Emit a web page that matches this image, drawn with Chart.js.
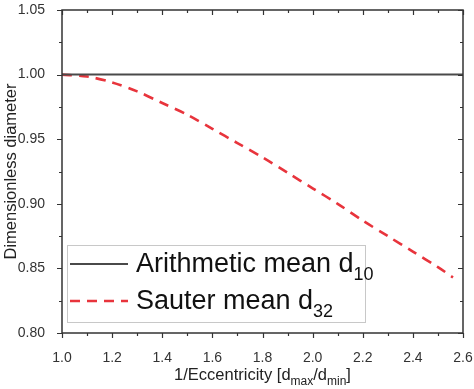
<!DOCTYPE html>
<html lang="en">
  <head>
    <meta charset="UTF-8" />
    <title>Dimensionless diameter vs 1/Eccentricity</title>
    <script src="https://cdn.jsdelivr.net/npm/chart.js"></script>
    <style>
      html, body { margin: 0; padding: 0; background: #fff; }
      #wrap { width: 474px; height: 389px; }
    </style>
  </head>
  <body>
    <div id="wrap"><canvas id="diamChart"></canvas></div>

    <script>
      // data
      const arithX = [1.0, 2.6];
      const arithY = [1.0, 1.0];

      const sauterX = [1.0, 1.1, 1.2, 1.3, 1.4, 1.5, 1.6, 1.7, 1.8, 1.9, 2.0, 2.1, 2.2, 2.3, 2.4, 2.5, 2.56];
      const sauterY = [1.0, 0.9985, 0.994, 0.987, 0.978, 0.969, 0.958, 0.947, 0.936, 0.924, 0.912, 0.9, 0.887, 0.875, 0.863, 0.851, 0.843];

      const xTicks = [1.0, 1.2, 1.4, 1.6, 1.8, 2.0, 2.2, 2.4, 2.6];
      const yTicks = [0.8, 0.85, 0.9, 0.95, 1.0, 1.05];

      const FONT = "'Liberation Sans', Arial, sans-serif";
      const AXIS = "#333";

      const toPoints = (xs, ys) => xs.map((x, i) => ({ x: x, y: ys[i] }));

      // frame + inner/outer tick marks (major and minor)
      const framePlugin = {
        id: "frame",
        afterDatasetsDraw(chart) {
          const { ctx, chartArea: a } = chart;
          const xs = chart.scales.x, ys = chart.scales.y;
          ctx.save();
          ctx.strokeStyle = AXIS;
          ctx.lineWidth = 1.5;
          ctx.strokeRect(a.left, a.top, a.right - a.left, a.bottom - a.top);
          ctx.lineWidth = 1.2;
          ctx.beginPath();
          for (let i = 0; i <= 16; i++) {
            const v = 1.0 + i * 0.1;
            const px = Math.round(xs.getPixelForValue(v)) + 0.5;
            const len = i % 2 === 0 ? 5 : 3;
            ctx.moveTo(px, a.bottom); ctx.lineTo(px, a.bottom + len);
            ctx.moveTo(px, a.top); ctx.lineTo(px, a.top + len);
          }
          for (let i = 0; i <= 10; i++) {
            const v = 0.8 + i * 0.025;
            const py = Math.round(ys.getPixelForValue(v)) + 0.5;
            const len = i % 2 === 0 ? 5 : 3;
            ctx.moveTo(a.left - len, py); ctx.lineTo(a.left, py);
            ctx.moveTo(a.right - len, py); ctx.lineTo(a.right, py);
          }
          ctx.stroke();
          ctx.restore();
        },
      };

      // text with a subscript part
      function subText(ctx, parts, x, y, size, subSize, align) {
        let w = 0;
        parts.forEach((p) => {
          ctx.font = (p.sub ? subSize : size) + "px " + FONT;
          p.w = ctx.measureText(p.t).width;
          w += p.w;
        });
        let cx = align === "center" ? x - w / 2 : x;
        parts.forEach((p) => {
          ctx.font = (p.sub ? subSize : size) + "px " + FONT;
          ctx.fillText(p.t, cx, p.sub ? y + size * 0.28 : y);
          cx += p.w;
        });
      }

      // legend box inside the plot, and x title with subscripts
      const legendPlugin = {
        id: "subLegend",
        afterDraw(chart) {
          const { ctx, chartArea: a } = chart;
          ctx.save();
          const bx = a.left + 5, by = a.bottom - 88, bw = 298, bh = 77;
          ctx.fillStyle = "#fff";
          ctx.fillRect(bx, by, bw, bh);
          ctx.strokeStyle = "#c8c8c8";
          ctx.lineWidth = 1;
          ctx.strokeRect(bx + 0.5, by + 0.5, bw, bh);

          const rows = [
            { ds: chart.data.datasets[0], y: by + 19, parts: [{ t: "Arithmetic mean d" }, { t: "10", sub: true }] },
            { ds: chart.data.datasets[1], y: by + 56, parts: [{ t: "Sauter mean d" }, { t: "32", sub: true }] },
          ];
          rows.forEach((r) => {
            ctx.strokeStyle = r.ds.borderColor;
            ctx.lineWidth = r.ds.borderWidth;
            ctx.setLineDash(r.ds.borderDash || []);
            ctx.beginPath();
            ctx.moveTo(bx + 3, r.y);
            ctx.lineTo(bx + 61, r.y);
            ctx.stroke();
            ctx.setLineDash([]);
            ctx.fillStyle = "#111";
            ctx.textBaseline = "alphabetic";
            subText(ctx, r.parts, bx + 69, r.y + 8, 27, 18, "left");
          });

          // x axis title
          ctx.fillStyle = "#222";
          subText(
            ctx,
            [{ t: "1/Eccentricity [d" }, { t: "max", sub: true }, { t: "/d" }, { t: "min", sub: true }, { t: "]" }],
            (a.left + a.right) / 2, 380, 16.5, 12, "center"
          );
          ctx.restore();
        },
      };

      const ctx = document.getElementById("diamChart").getContext("2d");
      new Chart(ctx, {
        type: "scatter",
        data: {
          datasets: [
            {
              label: "Arithmetic mean d10",
              data: toPoints(arithX, arithY),
              showLine: true,
              borderColor: "#4a4a4a",
              borderWidth: 2,
              pointRadius: 0,
            },
            {
              label: "Sauter mean d32",
              data: toPoints(sauterX, sauterY),
              showLine: true,
              borderColor: "#e8343c",
              borderWidth: 2.6,
              borderDash: [10, 7],
              pointRadius: 0,
              tension: 0.3,
            },
          ],
        },
        options: {
          responsive: true,
          maintainAspectRatio: false,
          animation: false,
          layout: { padding: { top: 10, right: 11, left: 0, bottom: 0 } },
          plugins: {
            legend: { display: false },
            tooltip: { enabled: false },
          },
          scales: {
            x: {
              type: "linear",
              min: 1.0,
              max: 2.6,
              afterBuildTicks: (s) => { s.ticks = xTicks.map((v) => ({ value: v })); },
              afterFit: (s) => { s.height = 56; s.paddingLeft = 0; s.paddingRight = 0; },
              grid: { display: false },
              border: { display: false },
              ticks: {
                padding: 9,
                color: AXIS,
                font: { family: FONT, size: 14 },
                maxRotation: 0,
                callback: (v) => v.toFixed(1),
              },
            },
            y: {
              min: 0.8,
              max: 1.05,
              afterBuildTicks: (s) => { s.ticks = yTicks.map((v) => ({ value: v })); },
              afterFit: (s) => { s.width = 62; s.paddingTop = 0; s.paddingBottom = 0; },
              grid: { display: false },
              border: { display: false },
              ticks: {
                padding: 9,
                color: AXIS,
                font: { family: FONT, size: 14 },
                callback: (v) => v.toFixed(2),
              },
              title: {
                display: true,
                text: "Dimensionless diameter",
                color: "#222",
                font: { family: FONT, size: 16.5 },
                padding: { top: 2, bottom: 0 },
              },
            },
          },
        },
        plugins: [framePlugin, legendPlugin],
      });
    </script>
  </body>
</html>
